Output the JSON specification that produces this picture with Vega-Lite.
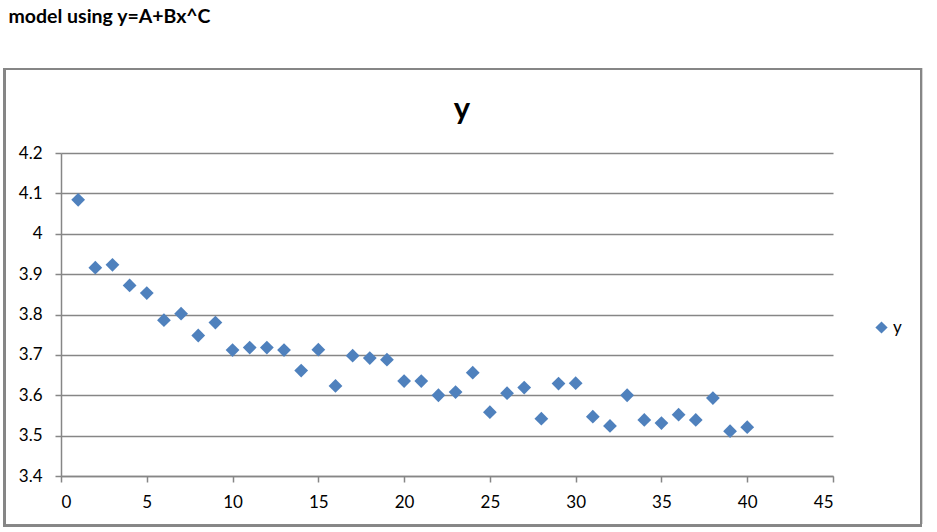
{
  "$schema": "https://vega.github.io/schema/vega-lite/v6.json",
  "autosize": {"type": "none"},
  "width": 772,
  "height": 323,
  "padding": {"left": 61, "top": 153, "right": 104, "bottom": 56},
  "background": "white",
  "title": {
    "text": "y",
    "anchor": "middle",
    "baseline": "alphabetic",
    "dx": 15,
    "offset": -144,
    "font": "Lato",
    "fontSize": 31,
    "fontWeight": "bold",
    "color": "black"
  },
  "data": {
    "values": [
      {"x": 1, "y": 4.084}, {"x": 2, "y": 3.916}, {"x": 3, "y": 3.923}, {"x": 4, "y": 3.872},
      {"x": 5, "y": 3.853}, {"x": 6, "y": 3.786}, {"x": 7, "y": 3.802}, {"x": 8, "y": 3.748},
      {"x": 9, "y": 3.780}, {"x": 10, "y": 3.712}, {"x": 11, "y": 3.718}, {"x": 12, "y": 3.718},
      {"x": 13, "y": 3.712}, {"x": 14, "y": 3.661}, {"x": 15, "y": 3.713}, {"x": 16, "y": 3.623},
      {"x": 17, "y": 3.698}, {"x": 18, "y": 3.692}, {"x": 19, "y": 3.688}, {"x": 20, "y": 3.635},
      {"x": 21, "y": 3.635}, {"x": 22, "y": 3.600}, {"x": 23, "y": 3.608}, {"x": 24, "y": 3.656},
      {"x": 25, "y": 3.558}, {"x": 26, "y": 3.605}, {"x": 27, "y": 3.619}, {"x": 28, "y": 3.542},
      {"x": 29, "y": 3.629}, {"x": 30, "y": 3.630}, {"x": 31, "y": 3.547}, {"x": 32, "y": 3.524},
      {"x": 33, "y": 3.600}, {"x": 34, "y": 3.539}, {"x": 35, "y": 3.531}, {"x": 36, "y": 3.552},
      {"x": 37, "y": 3.539}, {"x": 38, "y": 3.593}, {"x": 39, "y": 3.511}, {"x": 40, "y": 3.521}
    ]
  },
  "layer": [
    {
      "mark": {"type": "rect", "fill": null, "fillOpacity": 0, "stroke": "#868686", "strokeWidth": 2, "clip": false},
      "encoding": {
        "x": {"datum": -3.29, "type": "quantitative", "scale": {"domain": [0, 45], "nice": false, "zero": false}},
        "x2": {"datum": 50.13},
        "y": {"datum": 4.408, "type": "quantitative", "scale": {"domain": [3.4, 4.2], "nice": false, "zero": false}},
        "y2": {"datum": 3.277}
      }
    },
    {
      "mark": {"type": "point", "shape": "diamond", "filled": true, "size": 190, "opacity": 1},
      "encoding": {
        "x": {
          "field": "x",
          "type": "quantitative",
          "scale": {"domain": [0, 45], "nice": false, "zero": false},
          "axis": {
            "values": [0, 5, 10, 15, 20, 25, 30, 35, 40, 45],
            "grid": false,
            "title": null,
            "labelPadding": 12
          }
        },
        "y": {
          "field": "y",
          "type": "quantitative",
          "scale": {"domain": [3.4, 4.2], "nice": false, "zero": false},
          "axis": {
            "values": [3.4, 3.5, 3.6, 3.7, 3.8, 3.9, 4.0, 4.1, 4.2],
            "format": ".1~f",
            "grid": true,
            "labelPadding": 13,
            "title": "model using y=A+Bx^C",
            "titleAngle": 0,
            "titleAlign": "left",
            "titleBaseline": "alphabetic",
            "titleX": -53,
            "titleY": -131,
            "titleFont": "Lato",
            "titleFontSize": 19.5,
            "titleFontWeight": "bold",
            "titleColor": "black"
          }
        },
        "color": {
          "datum": "y",
          "type": "nominal",
          "scale": {"range": ["#4F81BD"]},
          "legend": {
            "title": null,
            "orient": "none",
            "legendX": 812,
            "legendY": 166,
            "symbolType": "diamond",
            "symbolSize": 150,
            "labelFont": "Lato",
            "labelFontSize": 17,
            "labelColor": "black",
            "labelOffset": 3
          }
        }
      }
    }
  ],
  "config": {
    "view": {"stroke": null},
    "axis": {
      "domainColor": "#868686",
      "domainWidth": 1.5,
      "tickColor": "#868686",
      "tickWidth": 1.5,
      "tickSize": 6,
      "gridColor": "#868686",
      "gridWidth": 1.5,
      "labelFont": "Lato",
      "labelFontSize": 17,
      "labelColor": "black"
    }
  }
}
